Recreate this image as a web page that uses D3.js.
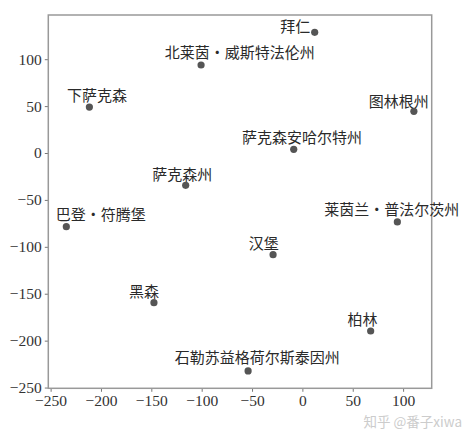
<!DOCTYPE html>
<html><head><meta charset="utf-8">
<script src="https://cdn.jsdelivr.net/npm/d3@7"></script>
<style>body{margin:0;background:#fff}svg{display:block}</style>
</head><body>
<svg id="c" width="474" height="436"></svg>
<script>
const names = ["拜仁","北莱茵·威斯特法伦州","下萨克森","图林根州","萨克森安哈尔特州","萨克森州","巴登·符腾堡","莱茵兰·普法尔茨州","汉堡","黑森","柏林","石勒苏益格荷尔斯泰因州"];
const xs = [12.2,-100.6,-211.5,110.7,-8.6,-115.9,-234.4,94.3,-29.1,-147.4,67.8,-53.9];
const ys = [128.6,93.8,49.0,44.4,3.9,-34.4,-78.5,-73.5,-108.4,-159.5,-189.7,-232.3];
const labelX = [-7.0,-62.1,-204.0,95.8,-0.3,-119.2,-200.1,88.7,-38.4,-157.2,59.6,-44.7];
const labelY = [129.5,101.2,55.4,49.0,10.7,-28.8,-71.9,-66.6,-102.3,-153.5,-182.8,-223.8];
const xTicks = [-250,-200,-150,-100,-50,0,50,100];
const yTicks = [-250,-200,-150,-100,-50,0,50,100];

const svg = d3.select("#c");
const L=48.3,R=431.7,T=15,B=388.3;
const x = d3.scaleLinear().domain([-252.3,128.4]).range([L,R]);
const y = d3.scaleLinear().domain([-250.8,147.1]).range([B,T]);
const fmt = d => (d<0?"\u2212"+Math.abs(d):""+d);

const gx = svg.append("g").attr("transform",`translate(0,${B})`)
  .call(d3.axisBottom(x).tickValues(xTicks).tickSize(3.5).tickPadding(3).tickFormat(fmt));
const gy = svg.append("g").attr("transform",`translate(${L},0)`)
  .call(d3.axisLeft(y).tickValues(yTicks).tickSize(3.5).tickPadding(3).tickFormat(fmt));
[gx,gy].forEach(g=>{
  g.select(".domain").remove();
  g.selectAll(".tick line").attr("stroke","#777").attr("stroke-width",1);
  g.selectAll(".tick text").attr("fill","#333").style("font-family","'Liberation Serif','DejaVu Serif',serif").style("font-size","15.5px");
});
gx.selectAll(".tick text").attr("dy","0.72em");

svg.append("rect").attr("x",L).attr("y",T).attr("width",R-L).attr("height",B-T)
  .attr("fill","none").attr("stroke","#999").attr("stroke-width",1.5);

const data = names.map((n,i)=>({n,x:xs[i],y:ys[i],lx:labelX[i],ly:labelY[i]}));
svg.append("g").selectAll("circle").data(data).join("circle")
  .attr("cx",d=>x(d.x)).attr("cy",d=>y(d.y)).attr("r",3.6).attr("fill","#555");
svg.append("g").selectAll("text").data(data).join("text")
  .attr("x",d=>x(d.lx)).attr("y",d=>y(d.ly)).attr("text-anchor","middle")
  .attr("fill","#2a2a2a").style("font-family","'Noto Sans CJK SC',sans-serif").style("font-size","15px")
  .text(d=>d.n);

svg.append("text").attr("x",462).attr("y",427).attr("text-anchor","end")
  .attr("fill","#ccc").style("font-family","'Noto Sans CJK SC',sans-serif").style("font-size","13.5px")
  .text("知乎 @番子xiwa");
</script>
</body></html>
